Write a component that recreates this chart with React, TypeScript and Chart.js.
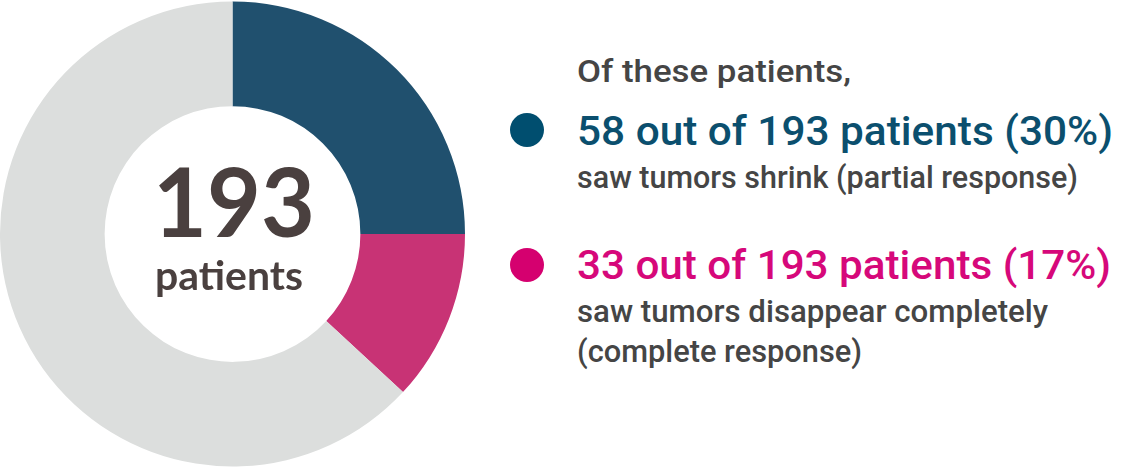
import { useEffect, useLayoutEffect, useRef } from 'react';
import { Chart, registerables } from 'chart.js';

Chart.register(...registerables);

// Slice shares as drawn in the ring (in %)
const sliceLabels = ['Partial response', 'Complete response', 'Other patients'];
const sliceShares = [25, 11.9, 63.1];
const sliceColors = ['#20506e', '#c83375', '#dcdedd'];

// Legend text values
const totalPatients = 193;
const responderCounts = [58, 33];
const responderPercents = [30, 17];
const responderNotes = [
  ['saw tumors shrink (partial response)'],
  ['saw tumors disappear completely', '(complete response)'],
];
const legendDotColors = ['#004e6f', '#d5006f'];
const legendTextColors = ['#0b4f6e', '#d6087a'];

const SANS = 'Roboto, "Liberation Sans", sans-serif';
const GREY_TEXT = '#454545';

interface FitTextProps {
  text: string;
  x: number;
  baseline: number;
  width: number;
  size: number;
  color: string;
  weight?: number;
  family?: string;
  align?: 'left' | 'center';
}

// Places text by its baseline and squeezes it to the wanted width
function FitText({ text, x, baseline, width, size, color, weight = 500, family = SANS, align = 'left' }: FitTextProps) {
  const boxRef = useRef<HTMLDivElement>(null);
  const textRef = useRef<HTMLSpanElement>(null);
  const markRef = useRef<HTMLSpanElement>(null);

  useLayoutEffect(() => {
    const fit = () => {
      const box = boxRef.current;
      const t = textRef.current;
      const mark = markRef.current;
      if (!box || !t || !mark) return;
      box.style.transform = 'none';
      const natural = t.getBoundingClientRect().width;
      const sx = natural > 0 ? width / natural : 1;
      const left = align === 'center' ? x - width / 2 : x;
      box.style.left = `${left}px`;
      box.style.top = `${baseline - mark.offsetTop}px`;
      box.style.transform = `scaleX(${sx})`;
    };
    fit();
    if (document.fonts) document.fonts.ready.then(fit);
  }, [text, x, baseline, width, size, align]);

  return (
    <div
      ref={boxRef}
      style={{
        position: 'absolute',
        left: x,
        top: 0,
        whiteSpace: 'nowrap',
        transformOrigin: '0 0',
        fontFamily: family,
        fontSize: size,
        fontWeight: weight,
        color,
        lineHeight: 1.2,
      }}
    >
      <span ref={textRef}>{text}</span>
      <span ref={markRef} style={{ display: 'inline-block', width: 0, height: 0 }} />
    </div>
  );
}

function Dot({ cx, cy, r, color }: { cx: number; cy: number; r: number; color: string }) {
  return (
    <div
      style={{
        position: 'absolute',
        left: cx - r,
        top: cy - r,
        width: r * 2,
        height: r * 2,
        borderRadius: '50%',
        background: color,
      }}
    />
  );
}

export default function App() {
  const chartRef = useRef<HTMLCanvasElement>(null);
  const chartInstance = useRef<Chart | null>(null);

  useEffect(() => {
    if (!chartRef.current) return;
    if (chartInstance.current) chartInstance.current.destroy();
    const ctx = chartRef.current.getContext('2d');
    if (!ctx) return;

    chartInstance.current = new Chart(ctx, {
      type: 'doughnut',
      data: {
        labels: sliceLabels,
        datasets: [{
          data: sliceShares,
          backgroundColor: sliceColors,
          borderWidth: 0,
        }],
      },
      options: {
        animation: false,
        responsive: true,
        maintainAspectRatio: false,
        cutout: '55%',
        layout: { padding: 0 },
        events: [],
        plugins: {
          legend: { display: false },
          tooltip: { enabled: false },
        },
      },
    });

    return () => {
      if (chartInstance.current) {
        chartInstance.current.destroy();
        chartInstance.current = null;
      }
    };
  }, []);

  const headBaselines = [145, 279];
  const dotCentres = [130, 265];
  const headWidths = [536, 534];
  const noteWidths = [[501], [471, 285]];

  return (
    <div style={{ position: 'fixed', left: 0, top: 0, width: 1124, height: 467, background: '#fff', overflow: 'hidden' }}>
      <div style={{ position: 'absolute', left: 0, top: 1, width: 465, height: 466 }}>
        <canvas ref={chartRef} />
      </div>

      <FitText text={String(totalPatients)} x={234} baseline={237} width={162} size={96} color="#4a403f" weight={700} family="Lato, sans-serif" align="center" />
      <FitText text="patients" x={229} baseline={290} width={148} size={40} color="#4a403f" weight={700} family="Lato, sans-serif" align="center" />

      <FitText text="Of these patients," x={577} baseline={82} width={274} size={31} color={GREY_TEXT} />

      {responderCounts.map((count, i) => (
        <div key={i}>
          <Dot cx={527} cy={dotCentres[i]} r={17} color={legendDotColors[i]} />
          <FitText
            text={`${count} out of ${totalPatients} patients (${responderPercents[i]}%)`}
            x={577}
            baseline={headBaselines[i]}
            width={headWidths[i]}
            size={41}
            color={legendTextColors[i]}
          />
          {responderNotes[i].map((line, j) => (
            <FitText
              key={j}
              text={line}
              x={577}
              baseline={headBaselines[i] + 43 + j * 40}
              width={noteWidths[i][j]}
              size={31}
              color={GREY_TEXT}
            />
          ))}
        </div>
      ))}
    </div>
  );
}
